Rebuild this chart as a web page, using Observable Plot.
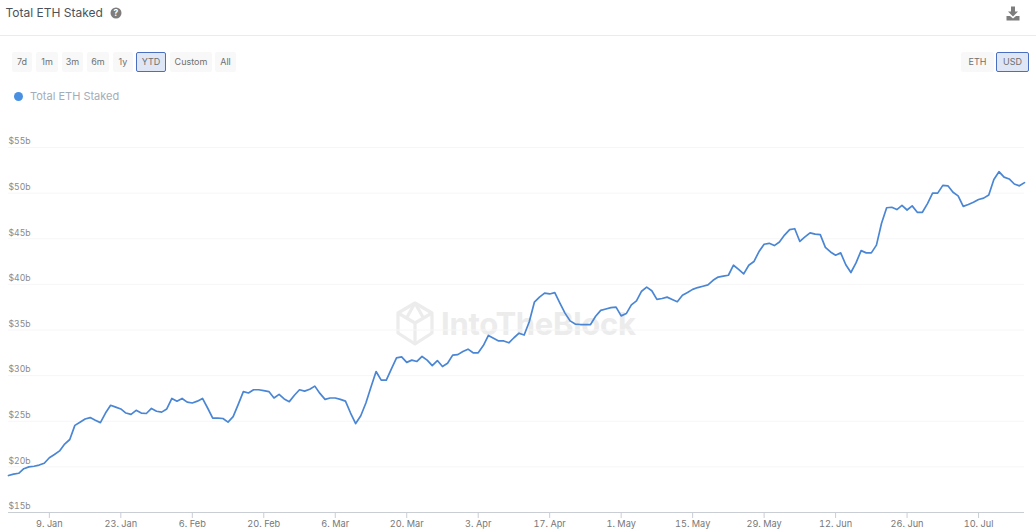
<!DOCTYPE html>
<html><head><meta charset="utf-8">
<script src="https://cdn.jsdelivr.net/npm/d3@7"></script>
<script src="https://cdn.jsdelivr.net/npm/@observablehq/plot@0.6"></script>
<style>
html,body{margin:0;padding:0;background:#fff;overflow:hidden}
#page{position:relative;width:1036px;height:532px;font-family:Inter,"Noto Sans",sans-serif;overflow:hidden}
#page>*{position:absolute}
.btn{box-sizing:border-box;top:52px;height:20px;line-height:20px;text-align:center;font-size:9px;color:#707070;background:#f8f8f8;border-radius:2px}
.btn.on{background:#dfe7f7;border:1px solid #4a6fc0;line-height:18px}
#title{left:5.5px;top:5px;font-size:12px;line-height:16px;color:#4a5259;white-space:nowrap}
#rule{left:0;top:35px;width:1036px;height:1px;background:#ebebeb}
#dot{left:14px;top:92px;width:9px;height:9px;border-radius:50%;background:#4a90e2}
#legend{left:30px;top:89px;font-size:11px;line-height:15px;color:#a3adb7;white-space:nowrap}
#wm{left:395px;top:300px;opacity:1}
#chart{left:0;top:130px}
</style></head><body>
<div id="page">
  <div id="title">Total ETH Staked</div>
  <svg style="left:110px;top:7px" width="12" height="12" viewBox="0 0 12 12"><circle cx="6" cy="6" r="5.5" fill="#7d7d7d"/><text x="6" y="9" text-anchor="middle" font-size="8.5" font-weight="700" font-family="Inter" fill="#fff">?</text></svg>
  <svg style="left:1006px;top:6px" width="14" height="15" viewBox="0 0 14 15"><path d="M5 0.5h4v5h3l-5 5-5-5h3z" fill="#7d7d7d"/><path d="M0.5 10h3.5l3 2.5 3-2.5h3.5v4.5h-13z" fill="#7d7d7d"/></svg>
  <div id="rule"></div>
  <div id="dot"></div>
  <div id="legend">Total ETH Staked</div>
  <svg id="wm" width="245" height="48" viewBox="0 0 245 48">
    <g fill="none" stroke="#ececec" stroke-width="3.2" stroke-linejoin="round">
      <path d="M20 3 37 13V33L20 44 3 33V13Z"/><path d="M3 13 20 23 37 13M20 23V44M20 3 11 19M20 3 29 19"/>
    </g>
    <text x="46" y="35" font-family="Inter" font-weight="700" font-size="31" fill="#ececec" letter-spacing="-0.3">IntoTheBlock</text>
  </svg>
  <div id="chart"></div>
</div>
<script>
const startDate = "2023-01-01";
const endDate = "2023-07-19";
const stakedBillions = [
19.05,19.2,19.3,19.8,20.0,20.07,20.2,20.4,21.0,21.35,21.75,22.5,23.0,24.55,24.9,25.25,25.4,25.1,24.85,25.9,
26.75,26.55,26.35,25.9,25.75,26.2,25.9,25.85,26.4,26.1,26.0,26.35,27.5,27.2,27.5,27.1,27.0,27.2,27.5,26.45,
25.35,25.35,25.3,24.9,25.5,26.85,28.25,28.1,28.45,28.45,28.35,28.25,27.55,27.95,27.45,27.15,27.85,28.45,28.3,28.5,
28.85,28.05,27.4,27.55,27.55,27.4,27.2,25.9,24.75,25.6,27.0,28.75,30.45,29.5,29.5,30.75,31.95,32.05,31.45,31.7,
31.55,32.1,31.7,31.1,31.65,31.0,31.35,32.25,32.3,32.65,32.9,32.5,32.5,33.3,34.4,34.1,33.8,33.8,33.6,34.15,
34.65,34.45,35.9,38.05,38.6,39.05,38.95,39.1,37.95,36.85,36.0,35.65,35.6,35.6,35.6,36.5,37.15,37.3,37.45,37.5,
36.55,36.8,37.75,38.2,39.25,39.7,39.3,38.35,38.45,38.6,38.35,38.1,38.8,39.1,39.45,39.65,39.8,39.95,40.45,40.8,
40.9,41.0,42.1,41.65,41.15,42.1,42.5,43.6,44.4,44.5,44.25,44.65,45.4,46.0,46.1,44.7,45.2,45.65,45.5,45.45,
44.05,43.55,43.2,43.45,42.15,41.3,42.35,43.7,43.45,43.45,44.3,46.7,48.4,48.45,48.2,48.65,48.15,48.6,47.9,47.9,
48.85,50.0,50.0,50.85,50.8,50.1,49.7,48.55,48.75,49.0,49.3,49.45,49.8,51.5,52.35,51.75,51.55,51.0,50.8,51.15
];
const yTicks = [15,20,25,30,35,40,45,50,55];
const xTickDates = ["2023-01-09","2023-01-23","2023-02-06","2023-02-20","2023-03-06","2023-03-20","2023-04-03","2023-04-17","2023-05-01","2023-05-15","2023-05-29","2023-06-12","2023-06-26","2023-07-10"];
const xTickLabels = ["9. Jan","23. Jan","6. Feb","20. Feb","6. Mar","20. Mar","3. Apr","17. Apr","1. May","15. May","29. May","12. Jun","26. Jun","10. Jul"];
const rangeButtons = [["7d",12,20],["1m",36,22],["3m",62,21],["6m",87,22],["1y",113,20],["YTD",136,30,1],["Custom",170,42],["All",215,21],["ETH",961,33],["USD",996,33,1]];

const page = document.getElementById("page");
for (const [t,l,w,on] of rangeButtons){
  const b=document.createElement("div");
  b.className="btn"+(on?" on":"");
  b.style.left=l+"px";b.style.width=w+"px";
  b.textContent=t;page.appendChild(b);
}
const t0 = new Date(startDate);
const rows = stakedBillions.map((v,i)=>({date:d3.utcDay.offset(t0,i),v}));
const tickDates = xTickDates.map(d=>new Date(d));
const labelOf = new Map(tickDates.map((d,i)=>[+d,xTickLabels[i]]));

const chart = Plot.plot({
  width:1036,height:402,
  marginLeft:8,marginRight:12,marginTop:17,marginBottom:20,
  style:{background:"transparent",fontFamily:"Inter, sans-serif"},
  x:{type:"utc",domain:[t0,new Date(endDate)]},
  y:{domain:[15,55]},
  marks:[
    Plot.gridY(yTicks.slice(1),{stroke:"#f6f6f6",strokeOpacity:1,strokeWidth:1}),
    Plot.ruleY([15],{stroke:"#c9cdd4",strokeWidth:1}),
    Plot.axisY(yTicks,{anchor:"left",tickSize:0,tickPadding:0,textAnchor:"start",dx:0,dy:-6,label:null,fontSize:8.7,fill:"#8a8a8a",tickFormat:d=>`$${d}b`}),
    Plot.axisX(tickDates,{anchor:"bottom",tickSize:6,tickPadding:2,stroke:"#c9cdd4",label:null,fontSize:9.2,fill:"#777",tickFormat:d=>labelOf.get(+d)}),
    Plot.line(rows,{x:"date",y:"v",stroke:"#4a86d4",strokeWidth:1.7,curve:"linear"})
  ]
});
document.getElementById("chart").appendChild(chart);
</script>
</body></html>
